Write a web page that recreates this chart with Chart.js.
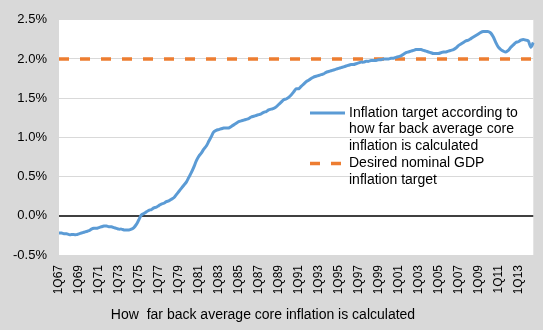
<!DOCTYPE html>
<html>
<head>
<meta charset="utf-8">
<script src="https://cdn.jsdelivr.net/npm/chart.js@4.4.1/dist/chart.umd.min.js"></script>
<style>
  html, body { margin: 0; padding: 0; background: #d9d9d9; }
  #wrap { width: 543px; height: 330px; }
</style>
</head>
<body>
<div id="wrap"><canvas id="inflChart" width="543" height="330"></canvas></div>
<script>
// quarterly, 1Q67 .. 3Q14
const FIRST_YEAR = 1967;
const LAST_YEAR = 2014;
const LAST_QUARTER = 3;

// inflation target by how far back average core inflation is calculated (%)
const TARGET_BY_START = [
  -0.22, -0.22, -0.23, -0.23,   // 1967
  -0.24, -0.24, -0.24, -0.24,   // 1968
  -0.23, -0.22, -0.21, -0.20,   // 1969
  -0.19, -0.17, -0.16, -0.16,   // 1970
  -0.15, -0.14, -0.13, -0.13,   // 1971
  -0.14, -0.14, -0.15, -0.16,   // 1972
  -0.17, -0.17, -0.18, -0.18,   // 1973
  -0.18, -0.17, -0.15, -0.11,   // 1974
  -0.05,  0.01,  0.03,  0.05,   // 1975
   0.07,  0.08,  0.10,  0.11,   // 1976
   0.13,  0.15,  0.16,  0.18,   // 1977
   0.19,  0.21,  0.23,  0.27,   // 1978
   0.31,  0.35,  0.39,  0.43,   // 1979
   0.49,  0.55,  0.62,  0.70,   // 1980
   0.76,  0.80,  0.85,  0.89,   // 1981
   0.95,  1.01,  1.07,  1.09,   // 1982
   1.10,  1.11,  1.12,  1.12,   // 1983
   1.12,  1.14,  1.16,  1.18,   // 1984
   1.20,  1.21,  1.22,  1.23,   // 1985
   1.24,  1.26,  1.27,  1.28,   // 1986
   1.29,  1.30,  1.32,  1.33,   // 1987
   1.35,  1.36,  1.37,  1.39,   // 1988
   1.42,  1.45,  1.48,  1.49,   // 1989
   1.51,  1.54,  1.58,  1.62,   // 1990
   1.62,  1.65,  1.68,  1.71,   // 1991
   1.73,  1.75,  1.77,  1.78,   // 1992
   1.79,  1.80,  1.81,  1.83,   // 1993
   1.84,  1.85,  1.86,  1.87,   // 1994
   1.88,  1.89,  1.90,  1.91,   // 1995
   1.92,  1.93,  1.93,  1.94,   // 1996
   1.95,  1.96,  1.96,  1.97,   // 1997
   1.97,  1.98,  1.98,  1.98,   // 1998
   1.99,  1.99,  2.00,  2.00,   // 1999
   2.00,  2.01,  2.01,  2.02,   // 2000
   2.03,  2.04,  2.06,  2.08,   // 2001
   2.09,  2.10,  2.11,  2.12,   // 2002
   2.12,  2.12,  2.11,  2.10,   // 2003
   2.09,  2.08,  2.07,  2.07,   // 2004
   2.07,  2.08,  2.09,  2.09,   // 2005
   2.10,  2.11,  2.12,  2.14,   // 2006
   2.17,  2.19,  2.21,  2.23,   // 2007
   2.24,  2.26,  2.28,  2.30,   // 2008
   2.32,  2.34,  2.35,  2.35,   // 2009
   2.35,  2.33,  2.28,  2.21,   // 2010
   2.15,  2.12,  2.10,  2.09,   // 2011
   2.11,  2.15,  2.18,  2.21,   // 2012
   2.22,  2.24,  2.25,  2.24,   // 2013
   2.23,  2.15,  2.21            // 2014
];

const NGDP_TARGET = 2.0;
const Y_TICKS = [-0.5, 0.0, 0.5, 1.0, 1.5, 2.0, 2.5];
const LABEL_EVERY = 8;

const SERIES_NAMES = [
  'Inflation target according to how far back average core inflation is calculated',
  'Desired nominal GDP inflation target',
];
const X_TITLE = 'How  far back average core inflation is calculated';

const COLORS = {
  blue:   '#5b9bd5',
  orange: '#ed7d31',
  grid:   '#d9d9d9',
  zero:   '#404040',
  bg:     '#d9d9d9',
  text:   '#000000',
};
const FONT = "'Liberation Sans', Arial, sans-serif";

const QUARTER_LABELS = [];
for (let y = FIRST_YEAR; y <= LAST_YEAR; y++) {
  for (let q = 1; q <= 4; q++) {
    if (y === LAST_YEAR && q > LAST_QUARTER) break;
    QUARTER_LABELS.push(q + 'Q' + String(y).slice(2));
  }
}

const plotBackground = {
  id: 'plotBackground',
  beforeDraw(chart) {
    const { ctx, chartArea: a } = chart;
    ctx.save();
    ctx.fillStyle = COLORS.bg;
    ctx.fillRect(0, 0, chart.width, chart.height);
    ctx.fillStyle = '#ffffff';
    ctx.fillRect(a.left, a.top, a.right - a.left, a.bottom - a.top);
    ctx.restore();
  },
};

function wrapText(ctx, text, maxW) {
  const words = text.split(' ');
  const lines = [];
  let cur = '';
  words.forEach(w => {
    const test = cur ? cur + ' ' + w : w;
    if (ctx.measureText(test).width > maxW && cur) { lines.push(cur); cur = w; }
    else cur = test;
  });
  if (cur) lines.push(cur);
  return lines;
}

const sideLegend = {
  id: 'sideLegend',
  afterDraw(chart) {
    const { ctx } = chart;
    const x0 = 310, x1 = 345, tx = 349;
    let y = 113;
    ctx.save();
    ctx.font = '14px ' + FONT;
    ctx.textBaseline = 'middle';
    ctx.fillStyle = COLORS.text;
    chart.data.datasets.forEach(ds => {
      ctx.beginPath();
      ctx.strokeStyle = ds.borderColor;
      ctx.lineWidth = ds.borderWidth;
      ctx.setLineDash(ds.borderDash || []);
      ctx.moveTo(x0, y);
      ctx.lineTo(x1, y);
      ctx.stroke();
      ctx.setLineDash([]);
      const lines = wrapText(ctx, ds.label, 180);
      lines.forEach((ln, i) => ctx.fillText(ln, tx, y + i * 16.5));
      y += lines.length * 16.5 + 1;
    });
    ctx.textAlign = 'center';
    ctx.fillText(X_TITLE, 263, 315);
    ctx.restore();
  },
};

const ctx = document.getElementById('inflChart');
new Chart(ctx, {
  type: 'line',
  data: {
    labels: QUARTER_LABELS,
    datasets: [
      {
        label: SERIES_NAMES[0],
        data: TARGET_BY_START,
        borderColor: COLORS.blue,
        borderWidth: 3,
        pointRadius: 0,
        tension: 0.3,
        fill: false,
      },
      {
        label: SERIES_NAMES[1],
        data: [
          { x: QUARTER_LABELS[0], y: NGDP_TARGET },
          { x: QUARTER_LABELS[QUARTER_LABELS.length - 1], y: NGDP_TARGET },
        ],
        borderColor: COLORS.orange,
        borderWidth: 3.5,
        borderDash: [10, 11],
        borderCapStyle: 'butt',
        pointRadius: 0,
        fill: false,
      },
    ],
  },
  options: {
    responsive: false,
    animation: false,
    layout: { padding: { top: 16, right: 9, left: 0, bottom: 0 } },
    plugins: { legend: { display: false }, tooltip: { enabled: false } },
    scales: {
      x: {
        type: 'category',
        offset: false,
        border: { display: false },
        grid: { display: false, drawTicks: false },
        afterFit: s => { s.height = 75; },
        ticks: {
          autoSkip: false,
          maxRotation: 90,
          minRotation: 90,
          padding: 10,
          color: COLORS.text,
          font: { family: FONT, size: 12 },
          callback: (v, i) => (i % LABEL_EVERY === 0 ? QUARTER_LABELS[i] : null),
        },
      },
      y: {
        min: Y_TICKS[0],
        max: Y_TICKS[Y_TICKS.length - 1],
        border: { display: false },
        afterFit: s => { s.width = 59; },
        afterBuildTicks: s => { s.ticks = Y_TICKS.map(v => ({ value: v })); },
        grid: {
          drawTicks: false,
          color: c => (c.tick && c.tick.value === 0 ? COLORS.zero : COLORS.grid),
          lineWidth: c => (c.tick && c.tick.value === 0 ? 2 : 1),
        },
        ticks: {
          padding: 12,
          color: COLORS.text,
          font: { family: FONT, size: 13 },
          callback: v => v.toFixed(1) + '%',
        },
      },
    },
  },
  plugins: [plotBackground, sideLegend],
});
</script>
</body>
</html>
